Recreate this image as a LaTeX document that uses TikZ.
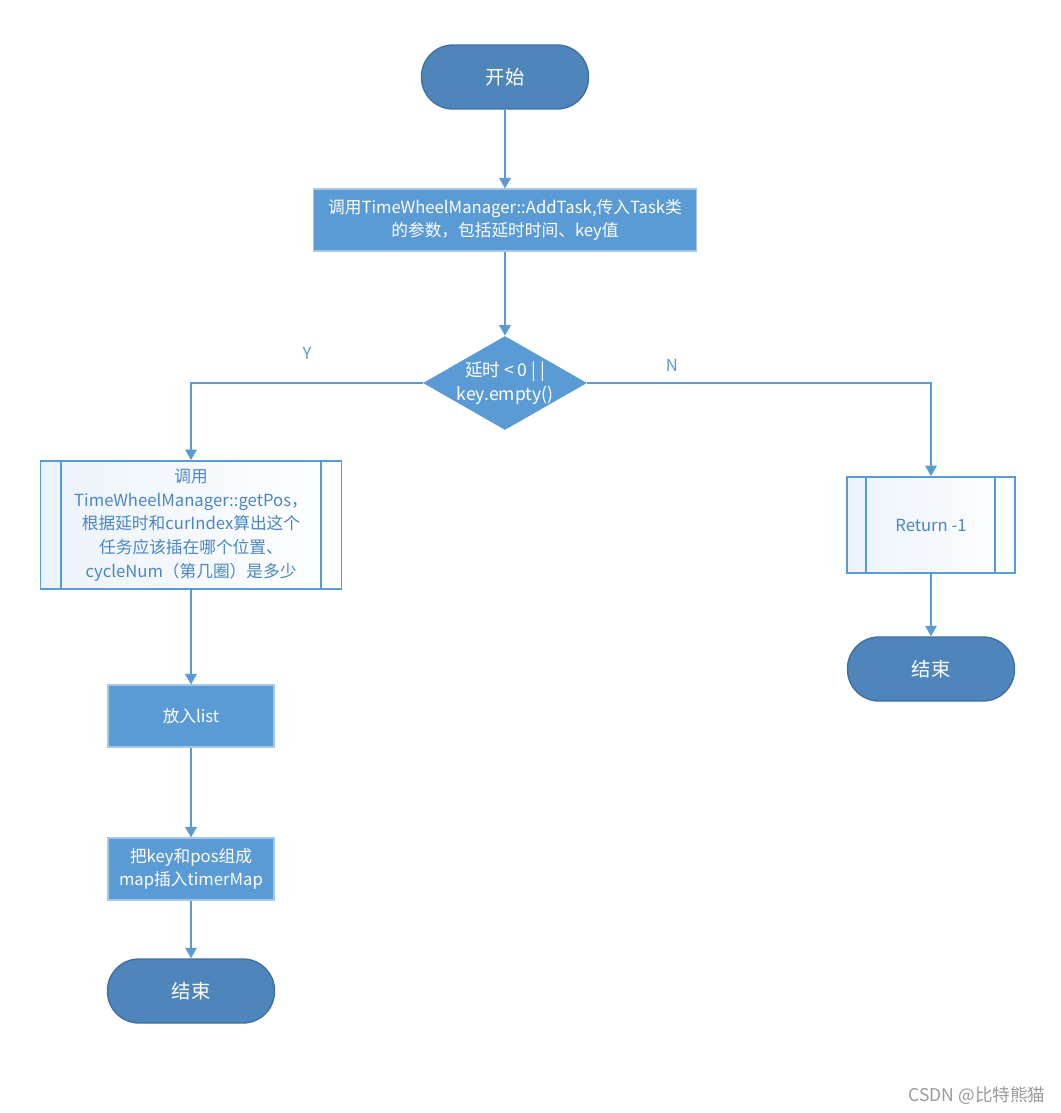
\documentclass[tikz,border=0pt]{standalone}
\usepackage{fontspec}
\setmainfont{Noto Sans CJK SC}
\usetikzlibrary{shapes.geometric,arrows.meta,calc}

\definecolor{procblue}{HTML}{5B9BD5}
\definecolor{termblue}{HTML}{4E86BB}
\definecolor{termedge}{HTML}{41719C}
\definecolor{subtext}{HTML}{4A86C5}
\definecolor{markgray}{HTML}{9A9A9A}

\begin{document}
\begin{tikzpicture}[x=0.02cm,y=-0.02cm,
    font=\fontsize{9.5}{13.5}\selectfont,
    terminal/.style={draw=termedge, fill=termblue, text=white, line width=0.8pt,
      rounded corners=0.63cm, minimum width=3.34cm, minimum height=1.28cm,
      font=\fontsize{11}{13}\selectfont},
    process/.style={draw=procblue!55!white, fill=procblue, text=white, line width=0.6pt,
      minimum height=1.24cm, align=center},
    subproc/.style={draw=procblue, left color=procblue!12!white, right color=white,
      text=subtext, line width=1pt, align=center},
    decision/.style={diamond, fill=procblue, inner sep=0pt,
      minimum width=3.28cm, minimum height=1.88cm},
    line/.style={draw=procblue, line width=1.1pt, -{Triangle[length=6pt,width=6.5pt]}},
    branch/.style={text=procblue}]
  % Fix the page to the reference size
  \useasboundingbox (0,0) rectangle (1061,1113);

  % Main column
  \node[terminal] (start) at (505,77) {开始};
  \node[process, minimum width=7.68cm] (task) at (505,220)
    {调用TimeWheelManager::AddTask,传入Task类\\的参数，包括延时时间、key值};
  \node[decision, label={[text=white, align=center, font=\fontsize{10}{14}\selectfont]center:延时 < 0 | |\\key.empty()}]
    (check) at (505,383) {};

  % Y branch
  \node[subproc, minimum width=6.02cm, minimum height=2.56cm] (getpos) at (191,525)
    {调用\\TimeWheelManager::getPos，\\根据延时和curIndex算出这个\\任务应该插在哪个位置、\\cycleNum（第几圈）是多少};
  \node[process, minimum width=3.32cm] (push) at (191,716) {放入list};
  \node[process, minimum width=3.32cm] (insert) at (191,869) {把key和pos组成\\map插入timerMap};
  \node[terminal] (endL) at (191,991) {结束};

  % N branch
  \node[subproc, minimum width=3.36cm, minimum height=1.92cm] (ret) at (931,525) {Return -1};
  \node[terminal] (endR) at (931,669) {结束};

  % Side bars of the predefined processes
  \draw[procblue, line width=1pt] ($(getpos.north west)+(21,0)$) -- ($(getpos.south west)+(21,0)$);
  \draw[procblue, line width=1pt] ($(getpos.north east)+(-21,0)$) -- ($(getpos.south east)+(-21,0)$);
  \draw[procblue, line width=1pt] ($(ret.north west)+(20,0)$) -- ($(ret.south west)+(20,0)$);
  \draw[procblue, line width=1pt] ($(ret.north east)+(-21,0)$) -- ($(ret.south east)+(-21,0)$);

  % Connectors
  \draw[line] (start) -- (task);
  \draw[line] (task) -- (check);
  \draw[line] (check.west) -| (getpos.north);
  \draw[line] (check.east) -| (ret.north);
  \draw[line] (getpos) -- (push);
  \draw[line] (push) -- (insert);
  \draw[line] (insert) -- (endL);
  \draw[line] (ret) -- (endR);

  % Branch labels
  \node[branch] (ylab) at (307,353) {Y};
  \node[branch] (nlab) at (672,365) {N};

  % Watermark
  \node[text=markgray, font=\fontsize{10}{12}\selectfont] (mark) at (977,1096) {CSDN @比特熊猫};
\end{tikzpicture}
\end{document}
